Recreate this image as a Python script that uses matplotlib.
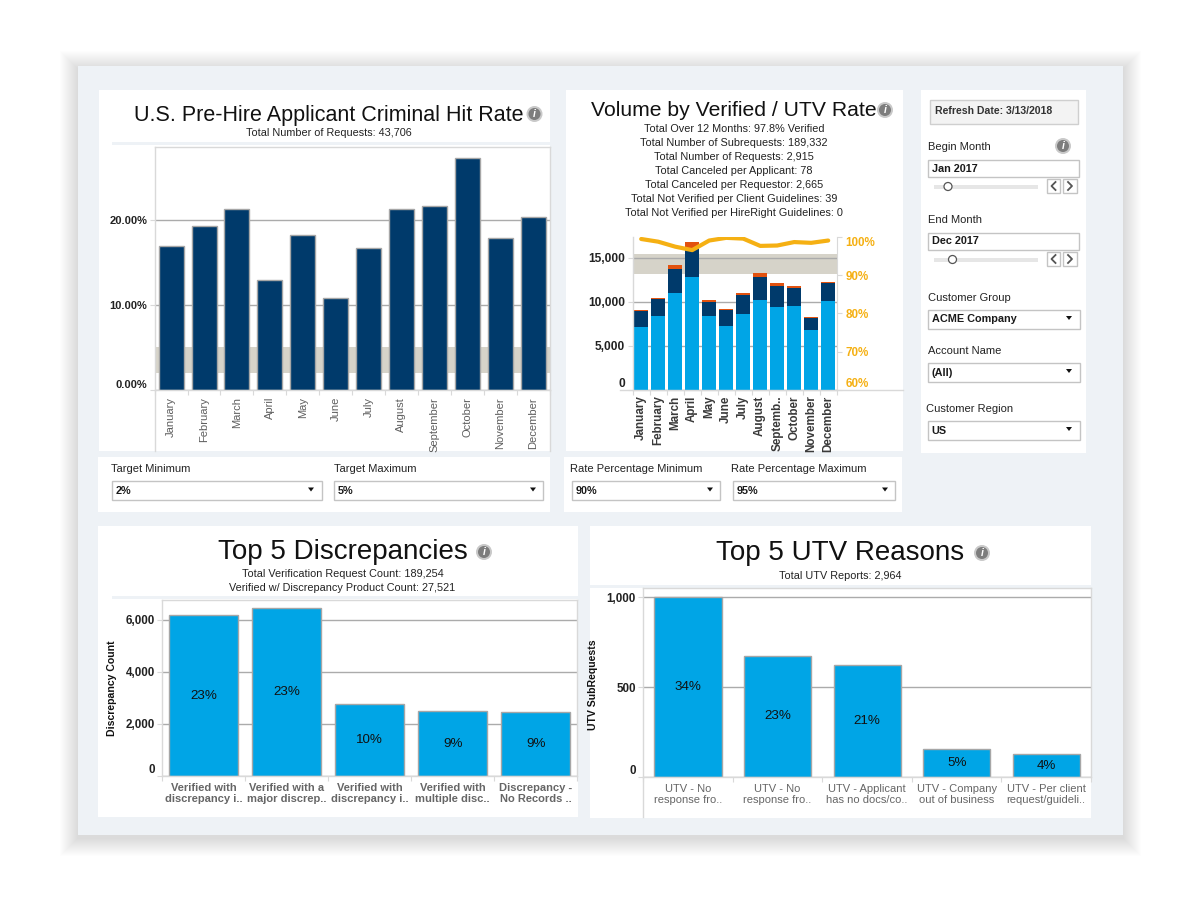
import matplotlib
matplotlib.use('Agg')
import matplotlib.pyplot as plt
from matplotlib.patches import Rectangle, Circle, Polygon
import numpy as np

plt.rcParams['font.family'] = ['Liberation Sans', 'DejaVu Sans']

# ----- data
months = ['January', 'February', 'March', 'April', 'May', 'June', 'July',
          'August', 'September', 'October', 'November', 'December']
months_short = months[:8] + ['Septemb..'] + months[9:]

hit_rate = [16.9, 19.3, 21.3, 12.9, 18.2, 10.8, 16.7, 21.3, 21.6, 27.3, 17.9, 20.4]
hit_ticks = [0, 10, 20]
hit_ticklabels = ['0.00%', '10.00%', '20.00%']
target_band = [2.0, 5.1]

vol_verified = [7160, 8410, 11020, 12840, 8410, 7270, 8640, 10230, 9430, 9550, 6820, 10110]
vol_second = [1820, 1890, 2730, 3180, 1590, 1820, 2160, 2610, 2390, 2040, 1360, 2050]
vol_third = [110, 150, 450, 800, 230, 110, 220, 460, 340, 230, 150, 110]
verified_rate = [99.4, 98.7, 97.4, 96.5, 99.0, 99.7, 99.5, 97.6, 97.7, 98.6, 98.4, 99.0]
vol_ticks = [0, 5000, 10000, 15000]
rate_ticks = [60, 70, 80, 90, 100]
rate_band = [90.2, 95.5]

disc_labels = ['Verified with\ndiscrepancy i..', 'Verified with a\nmajor discrep..',
               'Verified with\ndiscrepancy i..', 'Verified with\nmultiple disc..',
               'Discrepancy -\nNo Records ..']
disc_counts = [6180, 6450, 2756, 2487, 2449]
disc_pct = ['23%', '23%', '10%', '9%', '9%']
disc_ticks = [0, 2000, 4000, 6000]

utv_labels = ['UTV - No\nresponse fro..', 'UTV - No\nresponse fro..',
              'UTV - Applicant\nhas no docs/co..', 'UTV - Company\nout of business',
              'UTV - Per client\nrequest/guideli..']
utv_counts = [1000, 676, 622, 156, 128]
utv_pct = ['34%', '23%', '21%', '5%', '4%']
utv_ticks = [0, 500, 1000]

volume_lines = ['Total Over 12 Months: 97.8% Verified',
                'Total Number of Subrequests: 189,332',
                'Total Number of Requests: 2,915',
                'Total Canceled per Applicant: 78',
                'Total Canceled per Requestor: 2,665',
                'Total Not Verified per Client Guidelines: 39',
                'Total Not Verified per HireRight Guidelines: 0']

# ----- colours
navy = '#003a6b'
blue = '#00a5e6'
orange = '#e2520f'
gold = '#f5b013'
band = '#d6d3c9'
page = '#eef2f6'
grid = '#ababab'
frame = '#d9d9d9'
edge = '#a6a6a6'
dark = '#222222'
grey = '#5e5e5e'

W, H = 1200, 900
fig = plt.figure(figsize=(12, 9), dpi=100, facecolor='white')

bg = fig.add_axes([0, 0, 1, 1], zorder=0)
bg.set_xlim(0, W)
bg.set_ylim(H, 0)
bg.axis('off')


def box(l, t, r, b, fc='white', ec='none', lw=1, **kw):
    bg.add_patch(Rectangle((l, t), r - l, b - t, fc=fc, ec=ec, lw=lw, **kw))


def px_axes(l, t, r, b, zorder=2):
    return fig.add_axes([l / W, 1 - b / H, (r - l) / W, (b - t) / H], zorder=zorder)


def label(x, y, s, size=8, color=dark, weight='normal', ha='left'):
    bg.text(x, y, s, fontsize=size, color=color, fontweight=weight, ha=ha, va='center')


def info(x, y):
    bg.add_patch(Circle((x, y), 8, fc='#c9c9c9', ec='none'))
    bg.add_patch(Circle((x, y), 6, fc='#7d7d7d', ec='none'))
    bg.text(x, y, 'i', fontsize=7.5, color='white', fontweight='bold', style='italic',
            ha='center', va='center')


def dropdown(l, t, r, b, s, arrow_x=None):
    box(l, t, r, b, fc='white', ec='#c4c4c4')
    label(l + 4, (t + b) / 2 + 0.5, s, size=7.8, color='#1a1a1a', weight='bold')
    if arrow_x is not None:
        y = (t + b) / 2 - 1
        bg.add_patch(Polygon([(arrow_x - 3, y - 2), (arrow_x + 3, y - 2), (arrow_x, y + 2)],
                             fc='#111111', ec='none'))


def slider(t, knob_x):
    box(934, t, 1038, t + 4, fc='#e6e6e6')
    bg.add_patch(Circle((knob_x, t + 2), 4, fc='white', ec='#555555', lw=0.9, zorder=3))
    for l, r, sign in [(1047, 1060, -1), (1063, 1077, 1)]:
        box(l, t - 5.5, r, t + 8, fc='white', ec='#c4c4c4')
        cx = (l + r) / 2
        bg.plot([cx - sign * 2, cx + sign * 2, cx - sign * 2], [t - 2.5, t + 1.5, t + 5.5],
                color='#555555', lw=1.3)


def style_axes(ax, xlim, ymax, yticks, yticklabels, size=8):
    ax.set_xlim(*xlim)
    ax.set_ylim(0, ymax)
    ax.set_axisbelow(True)
    ax.set_yticks(yticks)
    ax.set_yticklabels(yticklabels, fontsize=size, fontweight='bold', color=dark)
    ax.yaxis.grid(True, color=grid, lw=1)
    ax.get_yticklabels()[0].set_verticalalignment('bottom')
    ax.tick_params(axis='y', length=3.5, width=0.8, color=frame, pad=2)
    for s in ax.spines.values():
        s.set_color(frame)
        s.set_linewidth(1)
    n = int(xlim[1] + 0.5)
    ax.set_xticks(np.arange(n))
    ax.set_xticks(np.arange(-0.5, n + 0.5), minor=True)
    ax.tick_params(axis='x', which='major', length=0)
    ax.tick_params(axis='x', which='minor', length=3.5, width=0.8, color=frame)


# ----- page, shadow and panels
for i in range(18, 0, -1):
    box(78 - i, 66 - i + 3, 1123 + i, 835 + i + 3, fc='#000000', alpha=0.006)
box(78, 66, 1123, 835, fc=page)

box(99, 90, 550, 451)
box(566, 90, 903, 451)
box(921, 90, 1086, 453)
box(98, 457, 550, 512)
box(564, 457, 902, 512)
box(98, 526, 578, 817)
box(590, 526, 1091, 818)

box(112, 142, 550, 145, fc=page)
box(112, 596, 578, 599, fc=page)
box(590, 585, 1091, 588, fc=page)

# ----- criminal hit rate
label(329, 115, 'U.S. Pre-Hire Applicant Criminal Hit Rate', size=15.5, color='#111111', ha='center')
label(329, 133, 'Total Number of Requests: 43,706', size=7.8, color=dark, ha='center')
info(534.5, 114)
ax1 = px_axes(154.7, 146.7, 549.5, 390)
style_axes(ax1, (-0.5, 11.5), 28.62, hit_ticks, hit_ticklabels)
ax1.axhspan(target_band[0], target_band[1], color=band, lw=0, zorder=0.5)
ax1.bar(np.arange(12), hit_rate, width=0.76, color=navy, edgecolor=edge, linewidth=1, zorder=2)
ax1.set_xticklabels(months, rotation=90, fontsize=8, color=grey, ha='center', va='top')
ax1.tick_params(axis='x', which='major', pad=5)
bg.plot([154.7, 154.7], [390, 451], color=frame, lw=1)
bg.plot([549.5, 549.5], [390, 451], color=frame, lw=1)

# ----- volume by verified / utv rate
label(734, 110, 'Volume by Verified / UTV Rate', size=15.2, color='#111111', ha='center')
for i, s in enumerate(volume_lines):
    label(734, 129 + 14 * i, s, size=7.8, color=dark, ha='center')
info(885, 110)

ax2 = px_axes(632.7, 236.7, 836.7, 390, zorder=2)
vol_labels = ['{:,}'.format(v) for v in vol_ticks]
style_axes(ax2, (-0.5, 11.5), 17420, vol_ticks, vol_labels, size=8.6)
ax2.patch.set_visible(False)
ax2.spines['top'].set_visible(False)
ax2.spines['right'].set_visible(False)

ax2r = ax2.twinx()
ax2r.set_zorder(1)
ax2r.set_ylim(60, 100)
ax2r.axhspan(rate_band[0], rate_band[1], color=band, lw=0, zorder=0.5)
ax2r.set_yticks(rate_ticks)
ax2r.set_yticklabels(['{}%'.format(v) for v in rate_ticks], fontsize=8.4, color=gold,
                     fontweight='bold')
ax2r.get_yticklabels()[0].set_verticalalignment('bottom')
ax2r.get_yticklabels()[-1].set_verticalalignment('top')
ax2r.tick_params(axis='y', length=3.5, width=0.8, color=frame, pad=3)
for s in ax2r.spines.values():
    s.set_visible(False)
ax2r.spines['right'].set_visible(True)
ax2r.spines['right'].set_color(frame)

x = np.arange(12)
v1 = np.array(vol_verified)
v2 = np.array(vol_second)
v3 = np.array(vol_third)
ax2.bar(x, v1, width=0.82, color=blue, zorder=2)
ax2.bar(x, v2, width=0.82, bottom=v1, color=navy, zorder=2)
ax2.bar(x, v3, width=0.82, bottom=v1 + v2, color=orange, zorder=2)
ax2.plot(x, verified_rate, color=gold, lw=3, transform=ax2r.transData, zorder=5,
         solid_joinstyle='round', solid_capstyle='round')
ax2.set_xticklabels(months_short, rotation=90, fontsize=8.4, color='#3a3a3a',
                    fontweight='bold', ha='center', va='top')
ax2.tick_params(axis='x', which='major', pad=4)
bg.plot([620, 903], [390, 390], color=frame, lw=1)

# ----- side panel
box(929.5, 100, 1078, 123.5, fc='#f3f3f3', ec='#cfcfcf')
label(935, 111.5, 'Refresh Date: 3/13/2018', size=7.6, color='#333333', weight='bold')
label(928.5, 147, 'Begin Month', size=8)
info(1063, 146)
dropdown(928, 160, 1079, 177, 'Jan 2017')
slider(184.5, 948)
label(928.5, 220, 'End Month', size=8)
dropdown(928, 232.5, 1079, 249.5, 'Dec 2017')
slider(257.5, 952.5)
label(927.5, 298, 'Customer Group', size=8)
dropdown(927.5, 309.5, 1080, 328.5, 'ACME Company', arrow_x=1069)
label(927.5, 351, 'Account Name', size=8)
dropdown(927.5, 362.5, 1080, 381.5, '(All)', arrow_x=1069)
label(926, 409, 'Customer Region', size=8)
dropdown(927.5, 420.5, 1080, 439.5, 'US', arrow_x=1069)

# ----- filters
label(111, 469, 'Target Minimum', size=8)
dropdown(112, 481, 322, 500, '2%', arrow_x=311)
label(334, 469, 'Target Maximum', size=8)
dropdown(334, 481, 543, 500, '5%', arrow_x=533)
label(570, 469, 'Rate Percentage Minimum', size=8)
dropdown(572, 481, 720, 500, '90%', arrow_x=710)
label(731, 469, 'Rate Percentage Maximum', size=8)
dropdown(733, 481, 895, 500, '95%', arrow_x=885)

# ----- top 5 discrepancies
label(342.5, 552, 'Top 5 Discrepancies', size=20, color='#111111', ha='center')
label(342.5, 574, 'Total Verification Request Count: 189,254', size=7.8, ha='center')
label(342.5, 588, 'Verified w/ Discrepancy Product Count: 27,521', size=7.8, ha='center')
info(484, 552)
ax3 = px_axes(162.3, 600.3, 577.3, 776)
style_axes(ax3, (-0.5, 4.5), 6757, disc_ticks, ['{:,}'.format(v) for v in disc_ticks], size=8.4)
rects = ax3.bar(np.arange(5), disc_counts, width=0.835, color=blue, edgecolor=edge, linewidth=1, zorder=2)
for rect, s in zip(rects, disc_pct):
    ax3.text(rect.get_x() + rect.get_width() / 2, rect.get_height() / 2, s, fontsize=9.6,
             color='#111111', ha='center', va='center', zorder=3)
ax3.set_xticklabels(disc_labels, fontsize=8, color='#666666', fontweight='bold', linespacing=1.15)
ax3.tick_params(axis='x', which='major', pad=5)
ax3.set_ylabel('Discrepancy Count', fontsize=7.6, fontweight='bold', color='#111111')
ax3.yaxis.set_label_coords(-0.108, 0.5)

# ----- top 5 utv reasons
label(840, 553, 'Top 5 UTV Reasons', size=20, color='#111111', ha='center')
label(840, 576, 'Total UTV Reports: 2,964', size=7.8, ha='center')
info(982, 553)
ax4 = px_axes(643.3, 588.3, 1091, 777.3)
style_axes(ax4, (-0.5, 4.5), 1050, utv_ticks, ['{:,}'.format(v) for v in utv_ticks], size=8.4)
rects = ax4.bar(np.arange(5), utv_counts, width=0.75, color=blue, edgecolor=edge, linewidth=1, zorder=2)
for rect, s in zip(rects, utv_pct):
    ax4.text(rect.get_x() + rect.get_width() / 2, rect.get_height() / 2, s, fontsize=9.6,
             color='#111111', ha='center', va='center', zorder=3)
ax4.set_xticklabels(utv_labels, fontsize=8, color='#666666', linespacing=1.15)
ax4.tick_params(axis='x', which='major', pad=5)
ax4.set_ylabel('UTV SubRequests', fontsize=7.6, fontweight='bold', color='#111111')
ax4.yaxis.set_label_coords(-0.101, 0.49)
bg.plot([643.3, 643.3], [777, 817], color=frame, lw=1)

plt.savefig('out.png', dpi=100)
